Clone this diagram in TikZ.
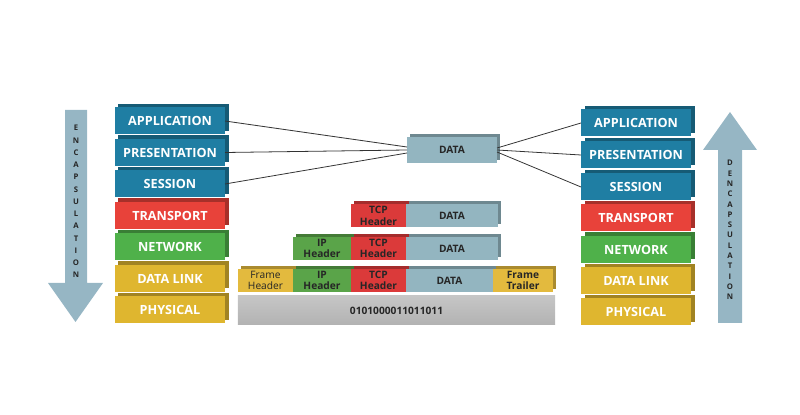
\documentclass[tikz,border=0pt]{standalone}
\usepackage{fontspec}
\setmainfont{Open Sans}
\usetikzlibrary{positioning,shadows}

\definecolor{osiblue}{HTML}{1F7EA3}
\definecolor{osired}{HTML}{E8423A}
\definecolor{osigreen}{HTML}{4FB14A}
\definecolor{osiyellow}{HTML}{DFB62F}
\definecolor{pdugrey}{HTML}{93B5C0}
\definecolor{arrowgrey}{HTML}{96B6C4}
\definecolor{hdrred}{HTML}{DB3A3A}
\definecolor{hdrgreen}{HTML}{5AA449}
\definecolor{hdryellow}{HTML}{E3BA3E}

\tikzset{
layer/.style={
	rectangle,
	minimum width=22mm,
	minimum height=5.4mm,
	inner sep=0pt,
	outer sep=0pt,
	text=white,
	font=\bfseries\fontsize{7.2}{9}\selectfont,
	fill=#1,
	copy shadow={fill=#1!72!black, draw=none, shadow xshift=0.7mm, shadow yshift=0.7mm}
},
seg/.style={
	rectangle,
	minimum height=4.6mm,
	inner sep=0pt,
	outer sep=0pt,
	align=center,
	text=black!85,
	font=\bfseries\fontsize{5.8}{6.6}\selectfont,
	fill=#1,
	copy shadow={fill=#1!75!black, draw=none, shadow xshift=0.6mm, shadow yshift=0.6mm}
},
link/.style={
	draw=black!80,
	line width=0.45pt
},
letters/.style={
	align=center,
	inner sep=0pt,
	text=black!85,
	font=\bfseries\fontsize{4.4}{#1}\selectfont
}
}

\begin{document}
\begin{tikzpicture}[x=0.2mm, y=-0.2mm]
\useasboundingbox (0,0) rectangle (800,415);
% ===== Left OSI stack (x = 170) =====
\node (lapp)   [layer=osiblue]   at (170, 121)   {APPLICATION};
\node (lpres)  [layer=osiblue]   at (170, 152.5) {PRESENTATION};
\node (lsess)  [layer=osiblue]   at (170, 184)   {SESSION};
\node (ltrans) [layer=osired]    at (170, 215.5) {TRANSPORT};
\node (lnet)   [layer=osigreen]  at (170, 247)   {NETWORK};
\node (llink)  [layer=osiyellow] at (170, 278.5) {DATA LINK};
\node (lphys)  [layer=osiyellow] at (170, 310)   {PHYSICAL};
% ===== Right OSI stack (x = 636) =====
\node (rapp)   [layer=osiblue]   at (636, 123)   {APPLICATION};
\node (rpres)  [layer=osiblue]   at (636, 155)   {PRESENTATION};
\node (rsess)  [layer=osiblue]   at (636, 187)   {SESSION};
\node (rtrans) [layer=osired]    at (636, 218)   {TRANSPORT};
\node (rnet)   [layer=osigreen]  at (636, 249.5) {NETWORK};
\node (rlink)  [layer=osiyellow] at (636, 281)   {DATA LINK};
\node (rphys)  [layer=osiyellow] at (636, 312)   {PHYSICAL};

% ===== Data on top, shared by the upper layers =====
\node (data)   [seg=pdugrey, minimum width=18mm, minimum height=5.2mm] at (452, 150) {DATA};
\draw [link] (lapp.east)  -- ([yshift=0.6mm]data.west);
\draw [link] (lpres.east) -- (data.west);
\draw [link] (lsess.east) -- ([yshift=-0.6mm]data.west);
\draw [link] ([yshift=0.4mm]data.east)  -- (rapp.west);
\draw [link] (data.east)                -- (rpres.west);
\draw [link] ([yshift=-0.4mm]data.east) -- (rsess.west);

% ===== Segment (transport) =====
\node (tcpa)   [seg=hdrred, minimum width=11mm]                     at (378.5, 216) {TCP\\Header};
\node (dataa)  [seg=pdugrey, minimum width=18.4mm, right=0pt of tcpa] {DATA};
% ===== Packet (network) =====
\node (ipb)    [seg=hdrgreen, minimum width=11.6mm]                 at (322, 248.5) {IP\\Header};
\node (tcpb)   [seg=hdrred, minimum width=11mm, right=0pt of ipb]   {TCP\\Header};
\node (datab)  [seg=pdugrey, minimum width=18.4mm, right=0pt of tcpb] {DATA};
% ===== Frame (data link) =====
\node (fhdr)   [seg=hdryellow, minimum width=11mm, font=\fontsize{5.8}{6.6}\selectfont] at (265.5, 280.5) {Frame\\Header};
\node (ipc)    [seg=hdrgreen, minimum width=11.6mm, right=0pt of fhdr] {IP\\Header};
\node (tcpc)   [seg=hdrred, minimum width=11mm, right=0pt of ipc]    {TCP\\Header};
\node (datac)  [seg=pdugrey, minimum width=17.4mm, right=0pt of tcpc] {DATA};
\node (ftrl)   [seg=hdryellow, minimum width=12mm, right=0pt of datac] {Frame\\Trailer};
% ===== Bits (physical) =====
\node (bits)   [rectangle, minimum width=63.4mm, minimum height=5.8mm, inner sep=0pt,
                top color=gray!45, middle color=gray!8, bottom color=gray!60,
                text=black!85, font=\bfseries\fontsize{5.8}{7}\selectfont] at (396.5, 310.5) {0101000011011011};

% ===== Encapsulation arrow (down, left) =====
\fill [arrowgrey] (65,110) -- (87,110) -- (87,283) -- (103,283) -- (75.5,322) -- (48,283) -- (65,283) -- cycle;
\node (enc)    [letters=6.97] at (76, 201.5) {E\\N\\C\\A\\P\\S\\U\\L\\A\\T\\I\\O\\N};
% ===== Decapsulation arrow (up, right) =====
\fill [arrowgrey] (718,323) -- (742,323) -- (742,150) -- (757,150) -- (730,112) -- (703,150) -- (718,150) -- cycle;
\node (denc)   [letters=5.86] at (730, 230) {D\\E\\N\\C\\A\\P\\S\\U\\L\\A\\T\\I\\O\\N};

\end{tikzpicture}
\end{document}
